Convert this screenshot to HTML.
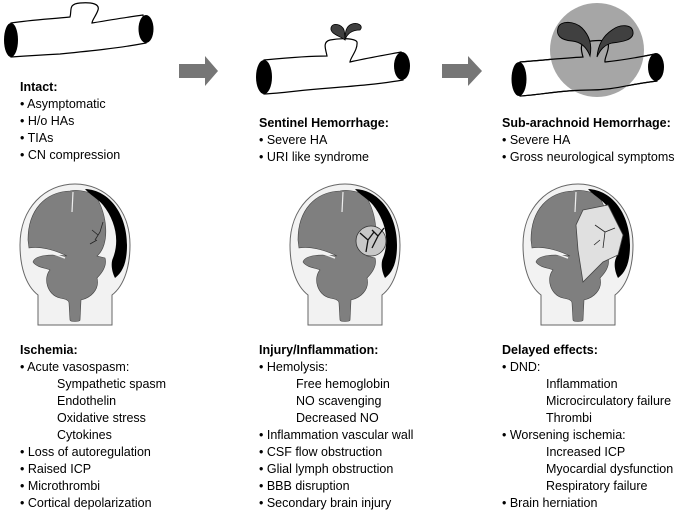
<!DOCTYPE html>
<html><head><meta charset="utf-8"><style>
html,body{margin:0;padding:0;background:#fff;}
svg{display:block;}
text{font-family:"Liberation Sans",Arial,sans-serif;font-size:12.5px;fill:#000;}
.b{font-weight:bold;}
</style></head><body>
<svg width="685" height="513" viewBox="0 0 685 513" xmlns="http://www.w3.org/2000/svg">
<defs>
<g id="head">
<path d="M-37,325 L-37,295 C-50,285 -55,265 -55,245 C-55,208 -30,184 0,184 C30,184 55,208 55,245 C55,265 50,285 37,295 L37,325 Z" fill="#f2f2f2" stroke="#666" stroke-width="1"/>
<path d="M-5,191 C-30,192 -47,210 -47,240 L-46,248 C-35,246 -20,250 -8,256 C-25,254 -40,255 -42,262 C-38,268 -28,268 -25,270 C-32,278 -28,295 -15,298 C-10,299 -6,300 -6,303 L-5,320 C-5,322 5,322 5,320 L6,300 C15,298 25,290 22,278 C28,272 32,265 30,258 L22,256 C35,245 33,215 20,195 C10,190 0,190 -5,191 Z" fill="#7f7f7f" stroke="#444" stroke-width="0.6"/>
<path d="M-44,250 C-32,250 -20,254 -10,258" stroke="#f2f2f2" stroke-width="1.5" fill="none"/>
<path d="M-2,192 L-3,212" stroke="#eee" stroke-width="1.2" fill="none"/>
<path d="M10,189 C35,190 52,215 52,245 C52,262 48,272 40,278 C36,270 36,262 38,258 C45,240 40,220 28,205 C22,198 15,195 10,189 Z" fill="#000"/>
</g>
</defs>

<!-- Vessel 1 -->
<path d="M11,23 C30,20 50,19 70,17 C72,10 68,4 80,3 C92,2 100,4 98,10 C96,16 92,20 92,23 C110,20 128,17 143,15 L146,43 C120,48 90,51 60,54 C40,55 25,56 11,57 Z" fill="#fff" stroke="#000" stroke-width="1.2"/>
<ellipse cx="11" cy="40" rx="7" ry="17" fill="#000"/>
<ellipse cx="146" cy="29" rx="7.5" ry="14" fill="#000"/>

<!-- Arrows -->
<path d="M179,64 L205,64 L205,56 L218,71 L205,86 L205,78 L179,78 Z" fill="#767676"/>
<path d="M442,64 L468,64 L468,56 L482,71 L468,86 L468,78 L442,78 Z" fill="#767676"/>

<!-- Vessel 2 -->
<path d="M264,60 C285,58 305,56 327,56 C326,50 322,42 330,40 C340,38 355,38 357,42 C358,50 350,58 350,62 C368,58 385,55 401,52 L403,80 C380,84 355,86 330,88 C300,90 285,93 264,94 Z" fill="#fff" stroke="#000" stroke-width="1.2"/>
<ellipse cx="264" cy="77" rx="8" ry="17" fill="#000"/>
<ellipse cx="402" cy="66" rx="8" ry="14" fill="#000"/>
<path d="M345,40 C340,36 330,34 331,28 C332,22 342,24 344,30 C345,34 345,37 345,40 Z" fill="#404040" stroke="#000" stroke-width="0.8"/>
<path d="M345,40 C347,34 352,30 360,30 C364,26 358,22 352,24 C346,26 345,32 345,40 Z" fill="#404040" stroke="#000" stroke-width="0.8"/>

<!-- Vessel 3 -->
<path d="M520,62 C545,60 565,58 583,57 C581,50 580,44 585,42 C595,40 605,40 608,42 C610,50 604,58 605,62 C625,60 640,57 655,54 L657,81 C630,84 615,90 590,90 C560,90 540,95 520,96 Z" fill="#fff" stroke="#000" stroke-width="1.2"/>
<circle cx="597" cy="50" r="47" fill="#a6a6a6"/>
<path d="M520,62 C545,60 565,58 583,57 C581,50 580,44 585,42 C595,40 605,40 608,42 C610,50 604,58 605,62 C625,60 640,57 655,54 M657,81 C630,84 615,90 590,90 C560,90 540,95 520,96" fill="none" stroke="#000" stroke-width="1.2"/>
<ellipse cx="519" cy="79" rx="7.5" ry="17" fill="#000"/>
<ellipse cx="656" cy="67" rx="8" ry="14" fill="#000"/>
<path d="M590,56 C587,48 582,42 572,41 C560,40 556,35 558,28 C560,20 575,21 582,28 C590,36 592,46 590,56 Z" fill="#404040" stroke="#000" stroke-width="0.9"/>
<path d="M597,57 C598,45 603,36 612,30 C620,24 632,24 633,32 C634,40 622,42 612,43 C604,45 600,50 597,57 Z" fill="#404040" stroke="#000" stroke-width="0.9"/>

<!-- Heads -->
<use href="#head" x="75" y="0"/>
<use href="#head" x="345" y="0"/>
<use href="#head" x="578" y="0"/>
<path d="M95,240 L100,232 L103,222 M92,230 L98,235 M90,244 L97,240" stroke="#222" stroke-width="0.8" fill="none"/>
<circle cx="371" cy="241" r="15" fill="#c8c8c8" stroke="#333" stroke-width="0.8"/>
<path d="M360,233 L368,240 L366,252 M368,240 L374,232 M372,230 L378,236 L384,228 M378,236 L372,248" stroke="#111" stroke-width="1.3" fill="none"/>
<path d="M583,210 L608,205 L623,235 L618,255 L603,262 L583,282 L578,250 L576,225 Z" fill="#e0e0e0" stroke="#444" stroke-width="0.8"/>
<path d="M595,225 L605,232 L615,228 M605,232 L603,248 M600,240 L594,245" stroke="#222" stroke-width="0.8" fill="none"/>

<!-- Top text -->
<text class="b" x="20" y="91">Intact:</text>
<text x="20" y="108">• Asymptomatic</text>
<text x="20" y="125">• H/o HAs</text>
<text x="20" y="142">• TIAs</text>
<text x="20" y="159">• CN compression</text>

<text class="b" x="259" y="127">Sentinel Hemorrhage:</text>
<text x="259" y="144">• Severe HA</text>
<text x="259" y="161">• URI like syndrome</text>

<text class="b" x="502" y="127">Sub-arachnoid Hemorrhage:</text>
<text x="502" y="144">• Severe HA</text>
<text x="502" y="161">• Gross neurological symptoms</text>

<!-- Bottom text -->
<text class="b" x="20" y="354">Ischemia:</text>
<text x="20" y="371">• Acute vasospasm:</text>
<text x="57" y="388">Sympathetic spasm</text>
<text x="57" y="405">Endothelin</text>
<text x="57" y="422">Oxidative stress</text>
<text x="57" y="439">Cytokines</text>
<text x="20" y="456">• Loss of autoregulation</text>
<text x="20" y="473">• Raised ICP</text>
<text x="20" y="490">• Microthrombi</text>
<text x="20" y="507">• Cortical depolarization</text>

<text class="b" x="259" y="354">Injury/Inflammation:</text>
<text x="259" y="371">• Hemolysis:</text>
<text x="296" y="388">Free hemoglobin</text>
<text x="296" y="405">NO scavenging</text>
<text x="296" y="422">Decreased NO</text>
<text x="259" y="439">• Inflammation vascular wall</text>
<text x="259" y="456">• CSF flow obstruction</text>
<text x="259" y="473">• Glial lymph obstruction</text>
<text x="259" y="490">• BBB disruption</text>
<text x="259" y="507">• Secondary brain injury</text>

<text class="b" x="502" y="354">Delayed effects:</text>
<text x="502" y="371">• DND:</text>
<text x="546" y="388">Inflammation</text>
<text x="546" y="405">Microcirculatory failure</text>
<text x="546" y="422">Thrombi</text>
<text x="502" y="439">• Worsening ischemia:</text>
<text x="546" y="456">Increased ICP</text>
<text x="546" y="473">Myocardial dysfunction</text>
<text x="546" y="490">Respiratory failure</text>
<text x="502" y="507">• Brain herniation</text>
</svg>
</body></html>
